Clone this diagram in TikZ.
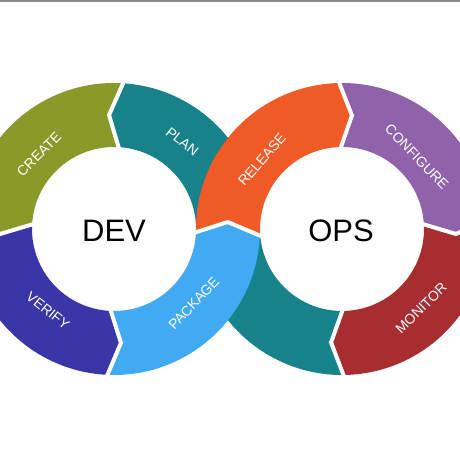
\documentclass[tikz,border=0pt]{standalone}
\usepackage{fontspec}
\setmainfont{Liberation Sans}
\usepackage{tikz}
\definecolor{LoopTeal}{HTML}{18828A}
\definecolor{LoopOlive}{HTML}{89992A}
\definecolor{LoopIndigo}{HTML}{3A36A8}
\definecolor{LoopSky}{HTML}{42AAF2}
\definecolor{LoopOrange}{HTML}{F05A26}
\definecolor{LoopPurple}{HTML}{9062AA}
\definecolor{LoopRed}{HTML}{A82D30}
\definecolor{RuleGray}{HTML}{8A8A8A}
\newcommand{\ringin}{82}
\newcommand{\ringout}{146}
\newcommand{\ringmid}{114}
\newcommand{\loopseg}[5]{%
  \fill[#5,shift={(#1)}] (#2:\ringout) arc[start angle=#2,end angle=#3,radius=\ringout]
    -- ({#3+#4}:\ringmid) -- (#3:\ringin) arc[start angle=#3,end angle=#2,radius=\ringin]
    -- ({#2+#4}:\ringmid) -- cycle;}
\newcommand{\loopgap}[3]{%
  \draw[gapline,shift={(#1)}] ({#2}:{\ringout+3}) -- ({#2+#3}:\ringmid) -- ({#2}:{\ringin-3});}
\tikzset{
  gapline/.style={white,line width=4pt,line join=miter},
  seglabel/.style={text=white,inner sep=0pt,font=\fontsize{14}{14}\selectfont},
  hub/.style={inner sep=0pt,font=\fontsize{31}{31}\selectfont},
  topline/.style={RuleGray,line width=1.6pt}
}

\begin{document}
\begin{tikzpicture}[x=1pt,y=1pt]
  \useasboundingbox (0,0) rectangle (460,460);
  \coordinate (devc) at (114,231);
  \coordinate (opsc) at (342,231);

  \loopseg{devc}{-3}{86}{6.5}{LoopTeal}
  \loopseg{opsc}{271}{183.5}{-6.5}{LoopTeal}
  \loopseg{devc}{86}{176}{6.5}{LoopOlive}
  \loopseg{devc}{176}{267}{6.5}{LoopIndigo}
  \loopseg{opsc}{183.5}{91.5}{-6.5}{LoopOrange}
  \loopseg{devc}{267}{357}{6.5}{LoopSky}
  \loopseg{opsc}{91.5}{4}{-6.5}{LoopPurple}
  \loopseg{opsc}{4}{-89}{-6.5}{LoopRed}

  \loopgap{devc}{86}{6.5}
  \loopgap{devc}{176}{6.5}
  \loopgap{devc}{267}{6.5}
  \loopgap{devc}{357}{6.5}
  \loopgap{opsc}{91.5}{-6.5}
  \loopgap{opsc}{4}{-6.5}
  \loopgap{opsc}{-89}{-6.5}

  \node[seglabel,rotate=-38] (plan) at ([shift={(52:111)}]devc) {PLAN};
  \node[seglabel,rotate=45] (create) at ([shift={(135:106)}]devc) {CREATE};
  \node[seglabel,rotate=-39] (verify) at ([shift={(231:105)}]devc) {VERIFY};
  \node[seglabel,rotate=47] (package) at ([shift={(-43:109)}]devc) {PACKAGE};
  \node[seglabel,rotate=49] (release) at ([shift={(139:106)}]opsc) {RELEASE};
  \node[seglabel,rotate=-46] (configure) at ([shift={(44:104)}]opsc) {CONFIGURE};
  \node[seglabel,rotate=45] (monitor) at ([shift={(-45:112)}]opsc) {MONITOR};

  \node[hub] (dev) at (114,229) {DEV};
  \node[hub] (ops) at (341,229) {OPS};

  \draw[topline] (0,459.2) -- (460,459.2);
\end{tikzpicture}
\end{document}
